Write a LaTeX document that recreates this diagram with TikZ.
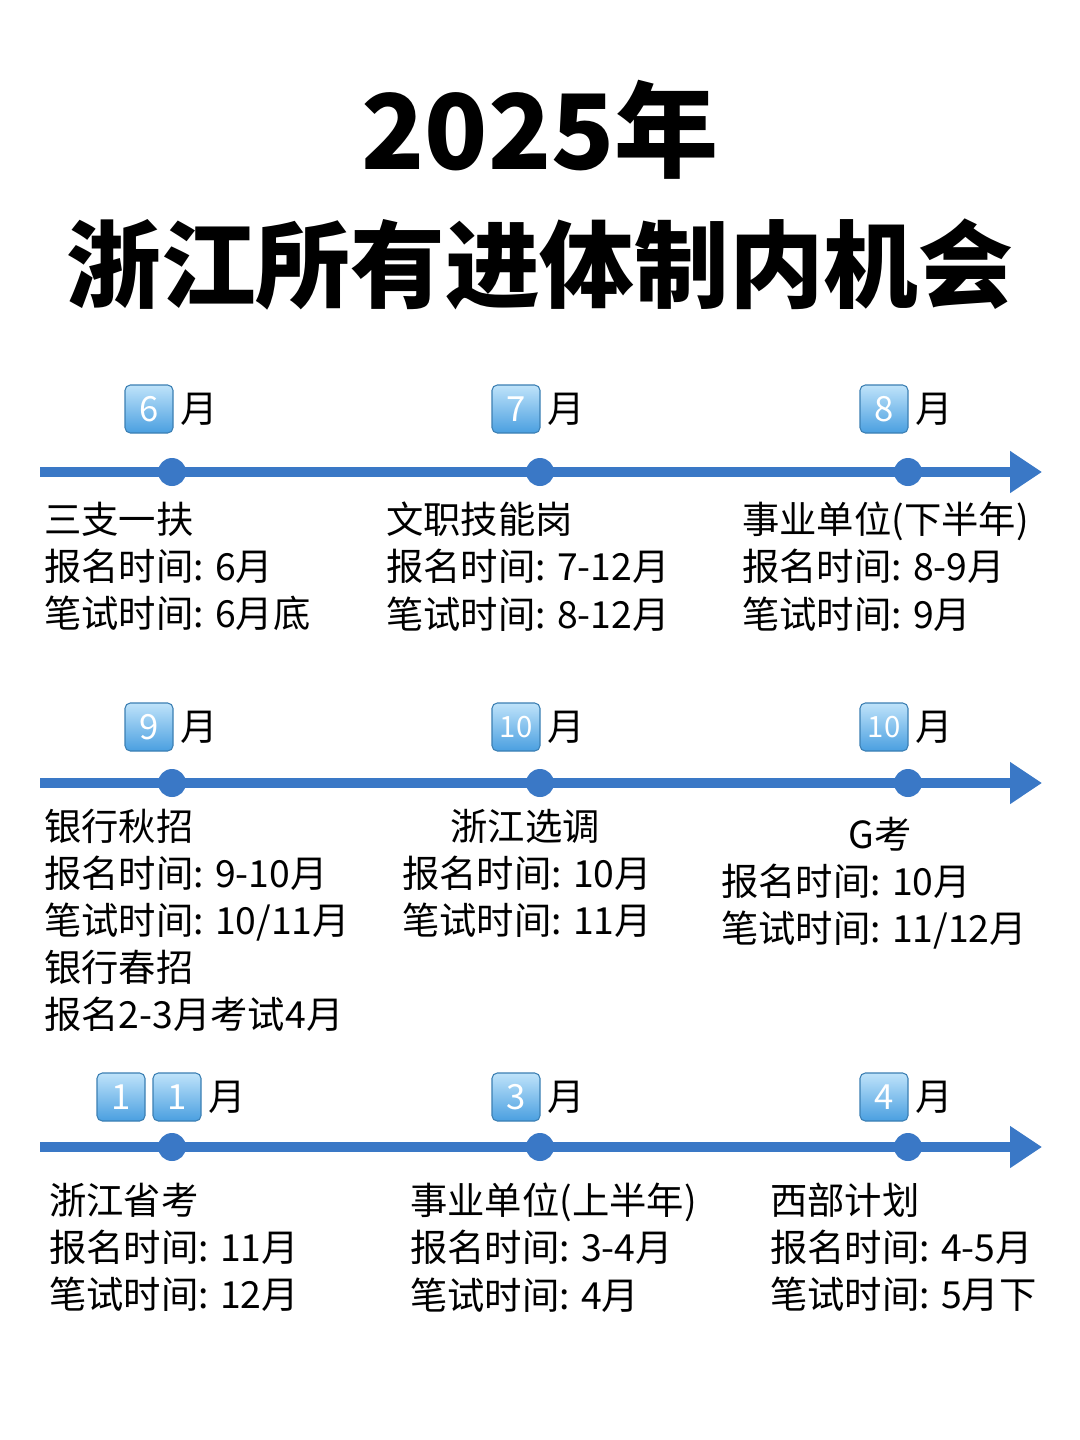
\documentclass[tikz,border=0pt]{standalone}
\usepackage{fontspec}
\setmainfont{Noto Sans CJK SC}
\usetikzlibrary{arrows.meta}
\definecolor{lineblue}{HTML}{3A78C6}
\definecolor{capblue}{HTML}{4A9FE0}
\definecolor{caplight}{HTML}{BFE3FA}
\tikzset{
 tl/.style={line width=7.5pt,lineblue,-{Triangle[length=24pt,width=30pt]}},
 dot/.style={circle,fill=lineblue,minimum size=21pt,inner sep=0},
 txt/.style={anchor=north west,align=left,font=\fontsize{28}{35.3}\selectfont,inner sep=0},
 txtc/.style={anchor=north,align=center,font=\fontsize{28}{35.3}\selectfont,inner sep=0},
 keycap/.style={rounded corners=4pt,top color=caplight,bottom color=capblue,draw=capblue!80!black,line width=0.8pt,minimum width=36pt,minimum height=36pt,text=white,font=\fontsize{26}{26}\selectfont,inner sep=0},
 mon/.style={anchor=west,font=\fontsize{28}{28}\selectfont,inner sep=0}
}
\begin{document}
\begin{tikzpicture}[x=0.75pt,y=-0.75pt]
\useasboundingbox (0,0) rectangle (1080,1440);
\fill[white] (0,0) rectangle (1080,1440);
\node[font=\fontsize{78}{78}\selectfont\bfseries] (t1) at (540,130) {2025年};
\node[font=\fontsize{71}{71}\selectfont\bfseries] (t2) at (540,265) {浙江所有进体制内机会};
\foreach \y/\n in {472/a,783/b,1147/c}{
 \coordinate (s\n) at (40,\y); \coordinate (e\n) at (1042,\y);
 \draw[tl] (s\n) -- (e\n);
 \node[dot] (\n1) at (172,\y) {};
 \node[dot] (\n2) at (540,\y) {};
 \node[dot] (\n3) at (908,\y) {};
}
\node[keycap] (k1) at (149,409) {6}; \node[mon] (m1) at (180,409) {月};
\node[keycap] (k2) at (516,409) {7}; \node[mon] (m2) at (547,409) {月};
\node[keycap] (k3) at (884,409) {8}; \node[mon] (m3) at (915,409) {月};
\node[keycap] (k4) at (149,727) {9}; \node[mon] (m4) at (180,727) {月};
\node[keycap,font=\fontsize{22}{22}\selectfont] (k5) at (516,727) {10}; \node[mon] (m5) at (547,727) {月};
\node[keycap,font=\fontsize{22}{22}\selectfont] (k6) at (884,727) {10}; \node[mon] (m6) at (915,727) {月};
\node[keycap] (k7) at (121,1097) {1}; \node[keycap] (k7b) at (177,1097) {1}; \node[mon] (m7) at (208,1097) {月};
\node[keycap] (k8) at (516,1097) {3}; \node[mon] (m8) at (547,1097) {月};
\node[keycap] (k9) at (884,1097) {4}; \node[mon] (m9) at (915,1097) {月};
\node[txt] (x1) at (44,502) {三支一扶\\报名时间: 6月\\笔试时间: 6月底};
\node[txt] (x2) at (386,502) {文职技能岗\\报名时间: 7-12月\\笔试时间: 8-12月};
\node[txt] (x3) at (742,502) {事业单位(下半年)\\报名时间: 8-9月\\笔试时间: 9月};
\node[txt] (x4) at (44,809) {银行秋招\\报名时间: 9-10月\\笔试时间: 10/11月\\银行春招\\报名2-3月考试4月};
\node[txtc] (x5h) at (525,809) {浙江选调};
\node[txt] (x5) at (402,856) {报名时间: 10月\\笔试时间: 11月};
\node[txtc] (x6h) at (880,817) {G考};
\node[txt] (x6) at (721,864) {报名时间: 10月\\笔试时间: 11/12月};
\node[txt] (x7) at (49,1183) {浙江省考\\报名时间: 11月\\笔试时间: 12月};
\node[txt] (x8) at (410,1183) {事业单位(上半年)\\报名时间: 3-4月\\笔试时间: 4月};
\node[txt] (x9) at (770,1183) {西部计划\\报名时间: 4-5月\\笔试时间: 5月下};
\end{tikzpicture}
\end{document}
